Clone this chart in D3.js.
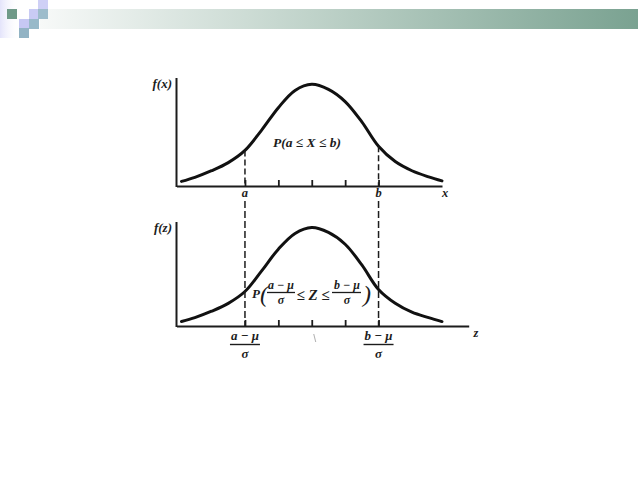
<!DOCTYPE html>
<html><head><meta charset="utf-8">
<script src="https://cdn.jsdelivr.net/npm/d3@7"></script>
<style>
body{margin:0;background:#fff}
svg{display:block}
text{font-family:"Liberation Serif","DejaVu Serif",serif;font-style:italic;font-weight:bold;fill:#1c1c1c}
</style>
</head><body><svg id="c" width="638" height="479"></svg>
<script>
// ---- data (z in tick units, density relative to peak) ----
const zValues       = [-3.9,-3.5,-3,-2.5,-2,-1.5,-1,-0.5,0,0.5,1,1.5,2,2.5,3,3.5,3.9];
const densityTop    = [0.045,0.085,0.15,0.23,0.35,0.55,0.77,0.94,1.0,0.95,0.83,0.63,0.39,0.24,0.15,0.09,0.05];
const densityBottom = [0.045,0.085,0.15,0.23,0.35,0.56,0.78,0.94,1.0,0.95,0.83,0.62,0.37,0.23,0.14,0.085,0.045];
const tickValues    = [-2,-1,0,1,2];
const tickLabelsTop = ["a","","","","b"];
const boundValues   = [-2,2];
const boundNumerators = ["a − μ","b − μ"];
const boundDenominator = "σ";
const axisNames = {top:["f(x)","x"], bottom:["f(z)","z"]};

const svg = d3.select("#c");

// ---- header decoration ----
const defs = svg.append("defs");
const g1 = defs.append("linearGradient").attr("id","hdr");
g1.append("stop").attr("offset","0%").attr("stop-color","#f7f9f8");
g1.append("stop").attr("offset","45%").attr("stop-color","#c0d3ca");
g1.append("stop").attr("offset","100%").attr("stop-color","#7aa291");
svg.append("rect").attr("x",40).attr("y",9).attr("width",598).attr("height",20).attr("fill","url(#hdr)");
const g2 = defs.append("linearGradient").attr("id","haze").attr("x1",0).attr("x2",1);
g2.append("stop").attr("offset","0%").attr("stop-color","#e4e4fb");
g2.append("stop").attr("offset","100%").attr("stop-color","#ffffff").attr("stop-opacity",0);
svg.append("rect").attr("x",0).attr("y",0).attr("width",20).attr("height",38).attr("fill","url(#haze)");
const squares = [
  [7,9,"#6f9a89"],[38,0,"#cfd0f6"],[29,9,"#c9cbf4"],[38,9,"#9dbccb"],
  [19,19,"#c6c8f3"],[29,19,"#98b9c9"],[19,28,"#92b3c4"]
];
svg.selectAll("rect.sq").data(squares).join("rect").attr("class","sq")
  .attr("x",d=>d[0]).attr("y",d=>d[1]).attr("width",10).attr("height",10).attr("fill",d=>d[2]);

// ---- scales ----
const xTop = d3.scaleLinear().domain([-4.05,3.9]).range([176.5,442]);
const xBot = d3.scaleLinear().domain([-4.05,4.7]).range([176.5,468.7]);
const yTop = d3.scaleLinear().domain([0,1]).range([186,84.3]);
const yBot = d3.scaleLinear().domain([0,1]).range([326,227.5]);

function panel(x, y, dens, yAxisTop){
  const g = svg.append("g");
  g.append("g").attr("transform",`translate(0,${y(0)})`)
    .call(d3.axisBottom(x).tickValues(tickValues).tickSizeInner(-6).tickSizeOuter(0).tickFormat(""))
    .call(a=>a.selectAll("path,line").attr("stroke","#1c1c1c").attr("stroke-width",1.8));
  g.append("line").attr("x1",x.range()[0]).attr("x2",x.range()[0])
    .attr("y1",y(0)+1).attr("y2",yAxisTop).attr("stroke","#1c1c1c").attr("stroke-width",2);
  const line = d3.line().x((d,i)=>x(zValues[i])).y(d=>y(d)).curve(d3.curveCatmullRom.alpha(0.5));
  g.append("path").datum(dens).attr("d",line).attr("fill","none")
    .attr("stroke","#111").attr("stroke-width",3).attr("stroke-linecap","round");
  return g;
}
panel(xTop, yTop, densityTop, 78);
panel(xBot, yBot, densityBottom, 222);

// ---- dashed verticals ----
boundValues.forEach(v=>{
  const i = zValues.indexOf(v);
  svg.append("line").attr("x1",xTop(v)).attr("x2",xTop(v))
    .attr("y1",yTop(densityTop[i])).attr("y2",yTop(0))
    .attr("stroke","#1c1c1c").attr("stroke-width",1.5).attr("stroke-dasharray","6,3");
  svg.append("line").attr("x1",xTop(v)).attr("x2",xTop(v))
    .attr("y1",201).attr("y2",yBot(0))
    .attr("stroke","#1c1c1c").attr("stroke-width",1.5).attr("stroke-dasharray","7,3");
});

// ---- labels ----
svg.append("text").attr("x",172).attr("y",88).attr("text-anchor","end").attr("font-size",13).text(axisNames.top[0]);
svg.append("text").attr("x",172).attr("y",232).attr("text-anchor","end").attr("font-size",13).text(axisNames.bottom[0]);
svg.append("text").attr("x",445).attr("y",197).attr("text-anchor","middle").attr("font-size",12.5).text(axisNames.top[1]);
svg.append("text").attr("x",476).attr("y",337).attr("text-anchor","middle").attr("font-size",12.5).text(axisNames.bottom[1]);

tickValues.forEach((v,i)=>{
  if(tickLabelsTop[i]) svg.append("text").attr("x",xTop(v)).attr("y",197)
    .attr("text-anchor","middle").attr("font-size",12.5).text(tickLabelsTop[i]);
});
boundValues.forEach((v,i)=>{
  const cx = xBot(v);
  svg.append("text").attr("x",cx).attr("y",340).attr("text-anchor","middle").attr("font-size",13).text(boundNumerators[i]);
  svg.append("line").attr("x1",cx-15).attr("x2",cx+15).attr("y1",344.5).attr("y2",344.5).attr("stroke","#1c1c1c").attr("stroke-width",1.4);
  svg.append("text").attr("x",cx).attr("y",358).attr("text-anchor","middle").attr("font-size",13).text(boundDenominator);
});

// probability labels
svg.append("text").attr("x",307).attr("y",146.5).attr("text-anchor","middle").attr("font-size",13.5)
  .text("P(a ≤ X ≤ b)");

const pg = svg.append("g");
pg.append("text").attr("x",256).attr("y",298).attr("text-anchor","middle").attr("font-size",13).text("P");
pg.append("text").attr("x",264).attr("y",302).attr("text-anchor","middle").attr("font-size",24).style("font-weight","normal").text("(");
pg.append("text").attr("x",281).attr("y",289).attr("text-anchor","middle").attr("font-size",12).text(boundNumerators[0]);
pg.append("line").attr("x1",267).attr("x2",295).attr("y1",292.5).attr("y2",292.5).attr("stroke","#1c1c1c").attr("stroke-width",1.3);
pg.append("text").attr("x",281).attr("y",304).attr("text-anchor","middle").attr("font-size",12).text(boundDenominator);
pg.append("text").attr("x",313).attr("y",300).attr("text-anchor","middle").attr("font-size",15).text("≤ Z ≤");
pg.append("text").attr("x",347).attr("y",289).attr("text-anchor","middle").attr("font-size",12).text(boundNumerators[1]);
pg.append("line").attr("x1",332).attr("x2",361).attr("y1",292.5).attr("y2",292.5).attr("stroke","#1c1c1c").attr("stroke-width",1.3);
pg.append("text").attr("x",347).attr("y",304).attr("text-anchor","middle").attr("font-size",12).text(boundDenominator);
pg.append("text").attr("x",367).attr("y",302).attr("text-anchor","middle").attr("font-size",24).style("font-weight","normal").text(")");

// small stray scan mark below the lower axis centre
svg.append("line").attr("x1",xBot(0)+2).attr("x2",xBot(0)+4).attr("y1",334).attr("y2",342)
  .attr("stroke","#999").attr("stroke-width",0.8);
</script></body></html>
